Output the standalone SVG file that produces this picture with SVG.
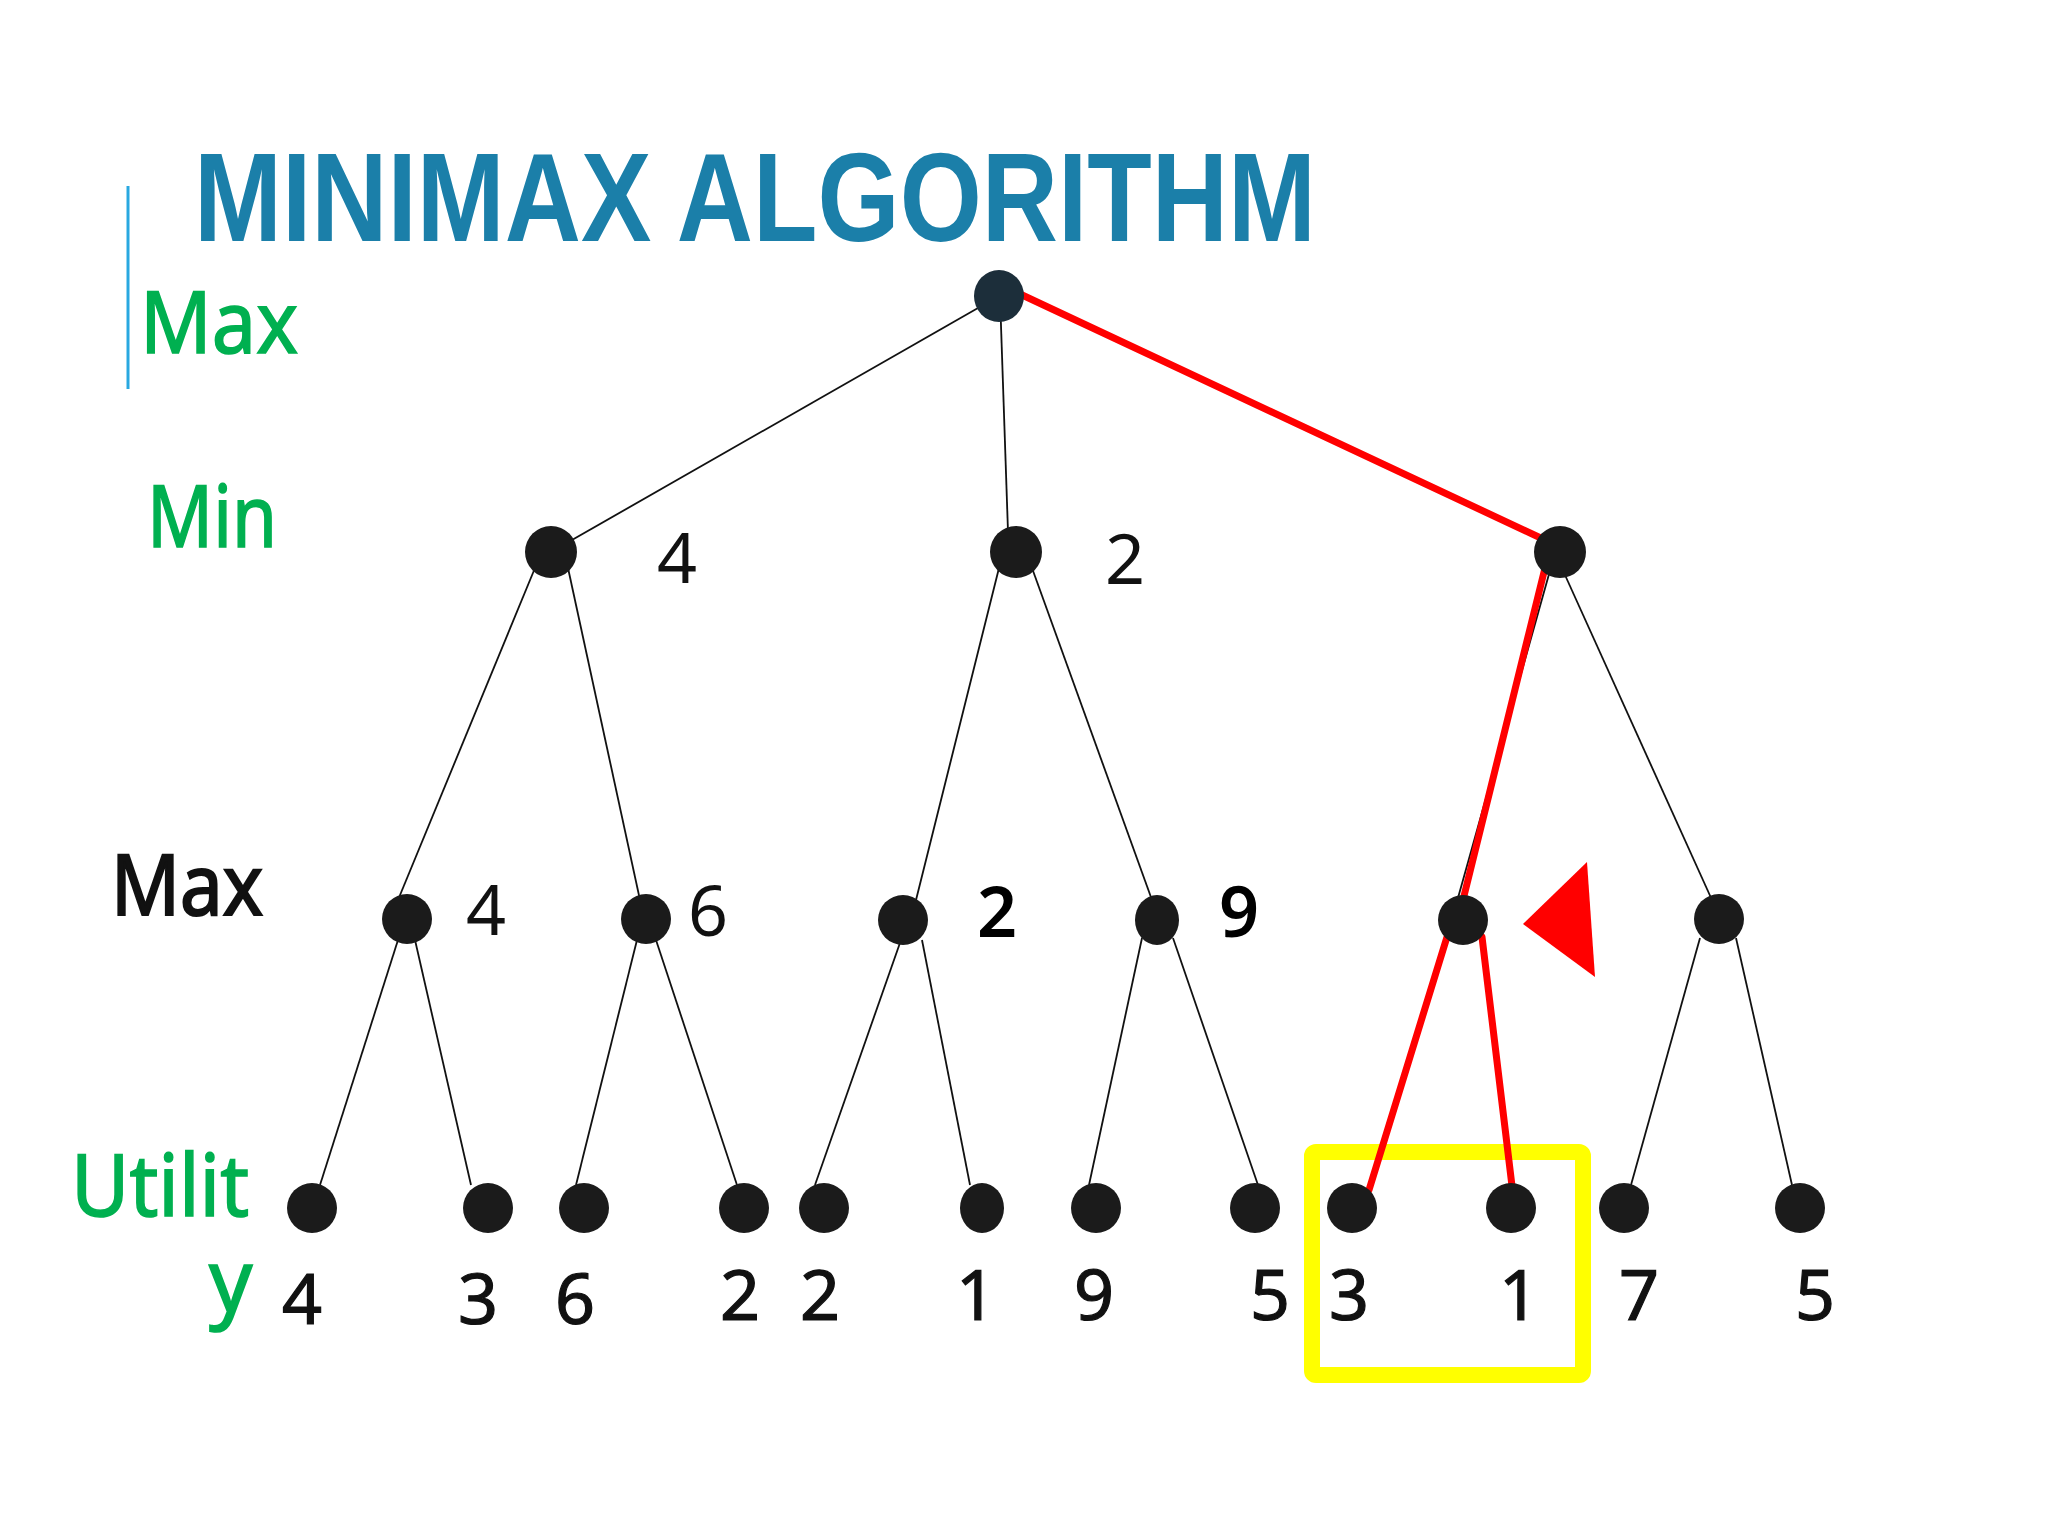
<svg xmlns="http://www.w3.org/2000/svg" width="2048" height="1536" viewBox="0 0 2048 1536">
<style>
.title{font-family:"Liberation Sans",Arial,sans-serif;font-weight:bold;font-size:127px;fill:#1b7fa9}
.lvl{font-family:"Noto Sans","Open Sans",sans-serif;font-size:85px;fill:#00b050;stroke:#00b050;stroke-width:1.6}
.lvlk{font-family:"Noto Sans","Open Sans",sans-serif;font-size:84px;fill:#111111;stroke:#111111;stroke-width:2.2}
.num{font-family:"Noto Sans","Open Sans",sans-serif;font-size:70px;fill:#111111;text-anchor:middle}
.numl{font-family:"Noto Sans","Open Sans",sans-serif;font-size:70px;fill:#111111;stroke:#111111;stroke-width:1.2;text-anchor:middle}
.numb{font-family:"Noto Sans","Open Sans",sans-serif;font-size:70px;fill:#000000;text-anchor:middle;font-weight:600}
.node{fill:#1b1b1b}
.e{stroke:#111111;stroke-width:1.8;fill:none}
.r{stroke:#ff0000;stroke-width:7;fill:none;stroke-linecap:round}
</style>
<rect x="0" y="0" width="2048" height="1536" fill="#ffffff"/>
<text class="title" x="194" y="241" textLength="1122" lengthAdjust="spacingAndGlyphs">MINIMAX ALGORITHM</text>
<line x1="128" y1="186" x2="128" y2="389" stroke="#29a8e0" stroke-width="3"/>
<text class="lvl" x="140" y="353" textLength="158" lengthAdjust="spacingAndGlyphs">Max</text>
<text class="lvl" x="147" y="547" textLength="130" lengthAdjust="spacingAndGlyphs">Min</text>
<text class="lvlk" x="111" y="915" textLength="152" lengthAdjust="spacingAndGlyphs">Max</text>
<text class="lvl" x="71" y="1216" textLength="178" lengthAdjust="spacingAndGlyphs">Utilit</text>
<text class="lvl" x="209" y="1311">y</text>
<g id="connectors">
<line class="e" x1="999" y1="296" x2="551" y2="552"/>
<line class="e" x1="1000" y1="296" x2="1008" y2="532"/>
<line class="e" x1="1553" y1="560" x2="1456" y2="905"/>
<line class="e" x1="1565" y1="575" x2="1712" y2="900"/>
<line class="e" x1="535" y1="568" x2="398" y2="900"/>
<line class="e" x1="568" y1="568" x2="640" y2="900"/>
<line class="e" x1="999" y1="568" x2="916" y2="900"/>
<line class="e" x1="1032" y1="568" x2="1152" y2="900"/>
<line class="e" x1="398" y1="940" x2="320" y2="1185"/>
<line class="e" x1="415" y1="940" x2="471" y2="1185"/>
<line class="e" x1="637" y1="940" x2="576" y2="1185"/>
<line class="e" x1="656" y1="940" x2="737" y2="1185"/>
<line class="e" x1="901" y1="940" x2="815" y2="1185"/>
<line class="e" x1="922" y1="940" x2="970" y2="1185"/>
<line class="e" x1="1142" y1="938" x2="1089" y2="1185"/>
<line class="e" x1="1173" y1="938" x2="1258" y2="1185"/>
<line class="e" x1="1700" y1="938" x2="1631" y2="1185"/>
<line class="e" x1="1736" y1="938" x2="1792" y2="1185"/>
</g>
<rect id="highlight" x="1312" y="1152" width="271" height="223" rx="4" fill="none" stroke="#ffff00" stroke-width="16"/>
<g id="red-path">
<line class="r" x1="1020" y1="294" x2="1545" y2="540"/>
<line class="r" x1="1545" y1="568" x2="1463" y2="900"/>
<line class="r" x1="1447" y1="937" x2="1369" y2="1190"/>
<line class="r" x1="1482" y1="937" x2="1512" y2="1186"/>
</g>
<polygon id="pointer" points="1587,862 1523,924 1595,977" fill="#ff0000"/>
<g id="root"><ellipse class="node" cx="999" cy="296" rx="25" ry="26" style="fill:#1c2e3a"/></g>
<g id="min1"><circle class="node" cx="551" cy="552" r="26"/><text class="num" x="677" y="583">4</text></g>
<g id="min2"><circle class="node" cx="1016" cy="552" r="26"/><text class="num" x="1125" y="584">2</text></g>
<g id="min3"><circle class="node" cx="1560" cy="552" r="26"/></g>
<g id="max1"><circle class="node" cx="407" cy="919" r="25"/><text class="num" x="486" y="935">4</text></g>
<g id="max2"><circle class="node" cx="646" cy="919" r="25"/><text class="num" x="708" y="936">6</text></g>
<g id="max3"><circle class="node" cx="903" cy="920" r="25"/><text class="numb" x="997" y="937">2</text></g>
<g id="max4"><ellipse class="node" cx="1157" cy="920" rx="22" ry="25"/><text class="numb" x="1239" y="937">9</text></g>
<g id="max5"><circle class="node" cx="1463" cy="920" r="25"/></g>
<g id="max6"><circle class="node" cx="1719" cy="919" r="25"/></g>
<g id="leaf1"><circle class="node" cx="312" cy="1208" r="25"/><text class="numl" x="302" y="1324">4</text></g>
<g id="leaf2"><circle class="node" cx="488" cy="1208" r="25"/><text class="numl" x="478" y="1324">3</text></g>
<g id="leaf3"><circle class="node" cx="584" cy="1208" r="25"/><text class="numl" x="575" y="1324">6</text></g>
<g id="leaf4"><circle class="node" cx="744" cy="1208" r="25"/><text class="numl" x="740" y="1320">2</text></g>
<g id="leaf5"><circle class="node" cx="824" cy="1208" r="25"/><text class="numl" x="820" y="1320">2</text></g>
<g id="leaf6"><ellipse class="node" cx="982" cy="1208" rx="22" ry="25"/><text class="numl" x="976" y="1320">1</text></g>
<g id="leaf7"><circle class="node" cx="1096" cy="1208" r="25"/><text class="numl" x="1094" y="1320">9</text></g>
<g id="leaf8"><circle class="node" cx="1255" cy="1208" r="25"/><text class="numl" x="1270" y="1320">5</text></g>
<g id="leaf9"><circle class="node" cx="1352" cy="1208" r="25"/><text class="numl" x="1349" y="1320">3</text></g>
<g id="leaf10"><circle class="node" cx="1511" cy="1208" r="25"/><text class="numl" x="1519" y="1320">1</text></g>
<g id="leaf11"><circle class="node" cx="1624" cy="1208" r="25"/><text class="numl" x="1639" y="1320">7</text></g>
<g id="leaf12"><circle class="node" cx="1800" cy="1208" r="25"/><text class="numl" x="1815" y="1320">5</text></g>
</svg>
